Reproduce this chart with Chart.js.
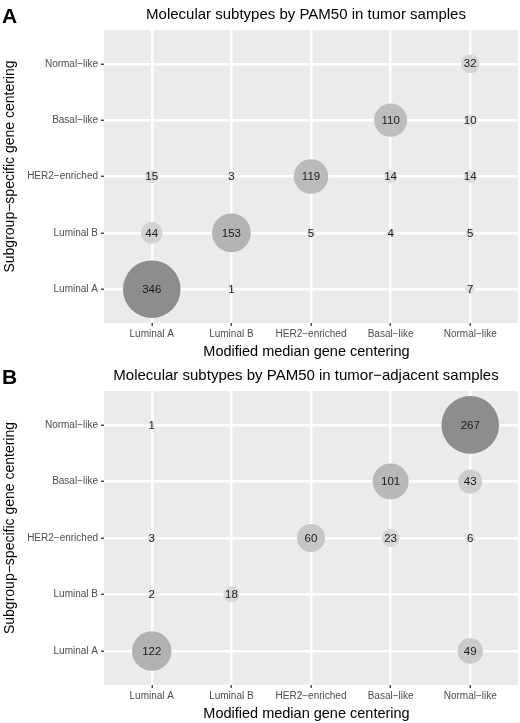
<!DOCTYPE html>
<html>
<head>
<meta charset="utf-8">
<script src="https://cdn.jsdelivr.net/npm/chart.js@4.4.1/dist/chart.umd.min.js"></script>
<style>
  html, body { margin: 0; padding: 0; background: #ffffff; }
  .panel { position: relative; width: 520px; }
  #pa { height: 361px; }
  #pb { height: 362px; }
</style>
</head>
<body>
<div class="panel" id="pa"><canvas id="chartA"></canvas></div>
<div class="panel" id="pb"><canvas id="chartB"></canvas></div>
<script>
// Categories (x: modified median gene centering, y: subgroup-specific gene centering)
const categories = ['Luminal A', 'Luminal B', 'HER2\u2212enriched', 'Basal\u2212like', 'Normal\u2212like'];

// Rows = subgroup-specific call (Luminal A .. Normal-like), columns = modified median call
const tumorCounts = [
  [346, 1, null, null, 7],      // Luminal A
  [44, 153, 5, 4, 5],           // Luminal B
  [15, 3, 119, 14, 14],         // HER2-enriched
  [null, null, null, 110, 10],  // Basal-like
  [null, null, null, null, 32]  // Normal-like
];
const adjacentCounts = [
  [122, null, null, null, 49],  // Luminal A
  [2, 18, null, null, null],    // Luminal B
  [3, null, 60, 23, 6],         // HER2-enriched
  [null, null, null, 101, 43],  // Basal-like
  [1, null, null, null, 267]    // Normal-like
];

const titleA = 'Molecular subtypes by PAM50 in tumor samples';
const titleB = 'Molecular subtypes by PAM50 in tumor\u2212adjacent samples';
const xTitle = 'Modified median gene centering';
const yTitle = 'Subgroup\u2212specific gene centering';
const FONT = '"Liberation Sans", Arial, Helvetica, sans-serif';

function toPoints(matrix) {
  const pts = [];
  matrix.forEach((row, yi) => row.forEach((c, xi) => {
    if (c !== null) pts.push({ x: xi + 1, y: yi + 1, count: c });
  }));
  return pts;
}

function makeChart(canvasId, matrix, title, letter) {
  const pts = toPoints(matrix);
  const maxCount = Math.max(...pts.map(p => p.count));
  const radiusOf = n => 0.8 + 28 * Math.sqrt(n / maxCount);
  const colorOf = n => {
    const g = Math.round(233 - 92 * Math.pow(n / maxCount, 0.65));
    return `rgb(${g},${g},${g})`;
  };

  const decor = {
    id: 'decor_' + canvasId,
    beforeDraw(chart) {
      const { ctx, chartArea: a } = chart;
      ctx.save();
      ctx.fillStyle = '#ebebeb';
      ctx.fillRect(a.left, a.top, a.right - a.left, a.bottom - a.top);
      ctx.restore();
    },
    afterDatasetsDraw(chart) {
      const { ctx } = chart;
      const meta = chart.getDatasetMeta(0);
      ctx.save();
      ctx.font = '11.5px ' + FONT;
      ctx.fillStyle = '#1a1a1a';
      ctx.textAlign = 'center';
      ctx.textBaseline = 'middle';
      meta.data.forEach((el, i) => {
        ctx.fillText(String(pts[i].count), el.x, el.y + 0.5);
      });
      ctx.restore();
    },
    afterDraw(chart) {
      const { ctx, chartArea: a } = chart;
      const cx = (a.left + a.right) / 2;
      const cy = (a.top + a.bottom) / 2;
      ctx.save();
      ctx.fillStyle = '#000000';
      ctx.textBaseline = 'middle';
      ctx.textAlign = 'center';
      ctx.font = '15px ' + FONT;
      ctx.fillText(title, cx - 5, 15);
      ctx.font = '14.5px ' + FONT;
      ctx.fillText(xTitle, cx - 4.5, a.bottom + 29);
      ctx.save();
      ctx.translate(10, cy - 10);
      ctx.rotate(-Math.PI / 2);
      ctx.font = '14px ' + FONT;
      ctx.fillText(yTitle, 0, 0);
      ctx.restore();
      ctx.textAlign = 'left';
      ctx.font = 'bold 21px ' + FONT;
      ctx.fillText(letter, 2, 17);
      ctx.restore();
    }
  };

  const tickFive = scale => { scale.ticks = [1, 2, 3, 4, 5].map(v => ({ value: v })); };

  return new Chart(document.getElementById(canvasId), {
    type: 'bubble',
    data: {
      datasets: [{
        data: pts,
        backgroundColor: ctx => colorOf(pts[ctx.dataIndex].count),
        borderWidth: 0,
        radius: ctx => radiusOf(pts[ctx.dataIndex].count),
        hoverRadius: 0,
        clip: false
      }]
    },
    options: {
      responsive: true,
      maintainAspectRatio: false,
      animation: false,
      events: [],
      layout: { autoPadding: false, padding: { top: 30, right: 2, bottom: 0, left: 0 } },
      plugins: { legend: { display: false }, tooltip: { enabled: false } },
      scales: {
        x: {
          type: 'linear', min: 0.4, max: 5.6,
          afterBuildTicks: tickFive,
          afterFit: s => { s.height = 38; s.paddingLeft = 0; s.paddingRight = 0; },
          border: { display: false },
          grid: { color: '#ffffff', lineWidth: 2.5, tickColor: '#333333', tickLength: 3, tickWidth: 1.3 },
          ticks: {
            padding: 2,
            autoSkip: false, maxRotation: 0,
            color: '#4d4d4d',
            font: { family: FONT, size: 10 },
            callback: v => categories[v - 1]
          },
          title: { display: false }
        },
        y: {
          type: 'linear', min: 0.4, max: 5.6,
          afterBuildTicks: tickFive,
          afterFit: s => { s.width = 104; s.paddingTop = 0; s.paddingBottom = 0; },
          border: { display: false },
          grid: { color: '#ffffff', lineWidth: 2.5, tickColor: '#333333', tickLength: 3, tickWidth: 1.3 },
          ticks: {
            padding: 3,
            autoSkip: false,
            color: '#4d4d4d',
            font: { family: FONT, size: 10 },
            callback: v => categories[v - 1]
          },
          title: { display: false }
        }
      }
    },
    plugins: [decor]
  });
}

makeChart('chartA', tumorCounts, titleA, 'A');
makeChart('chartB', adjacentCounts, titleB, 'B');
</script>
</body>
</html>
